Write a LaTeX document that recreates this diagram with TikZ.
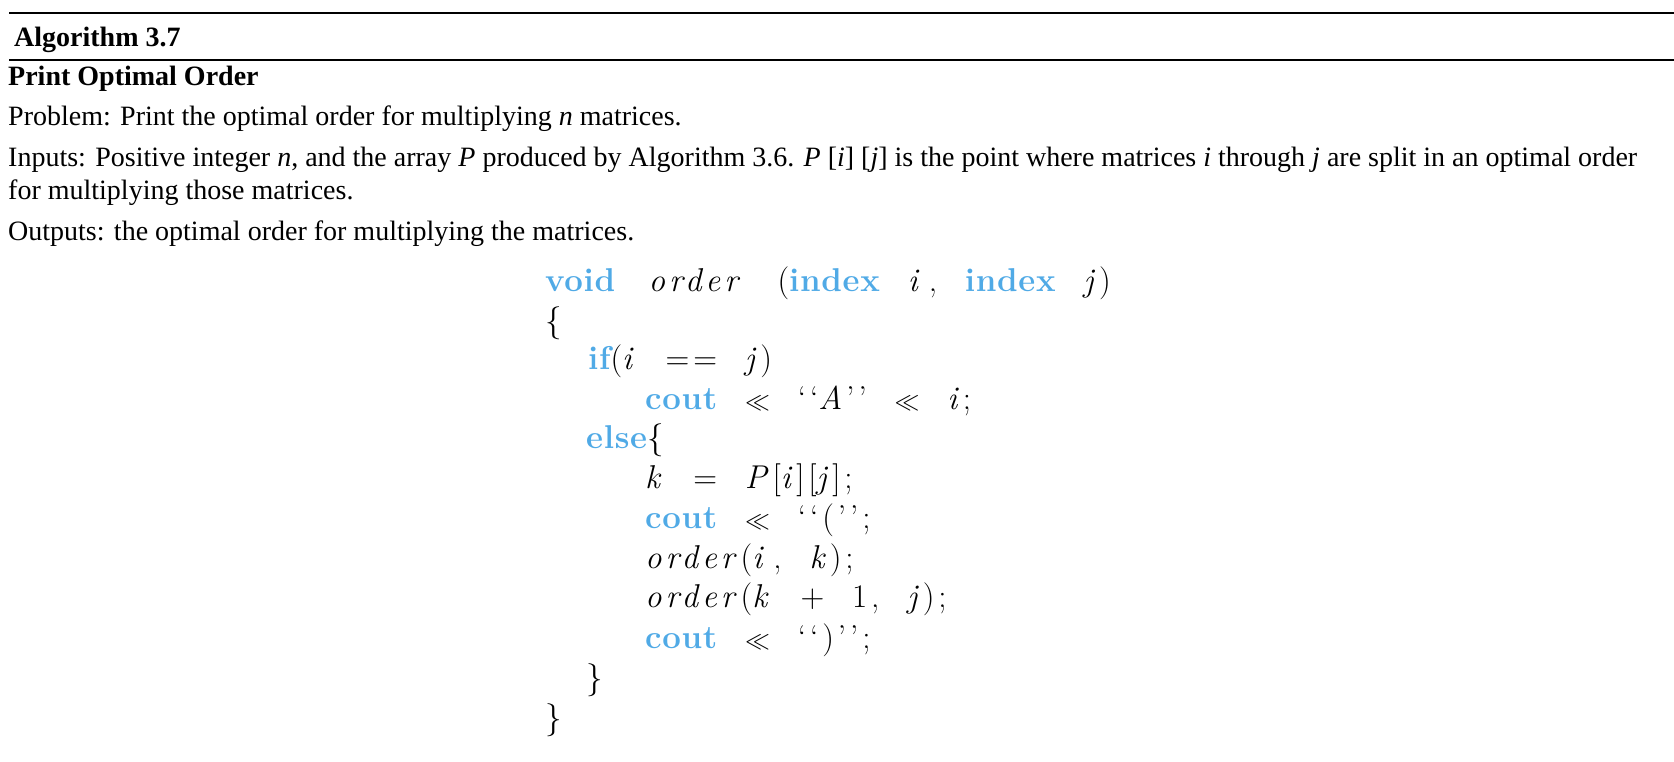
\documentclass[tikz,border=0pt]{standalone}
\usepackage{fontspec}
\setmainfont{Liberation Serif}
\newfontfamily\codefont{Latin Modern Roman}[LetterSpace=12,WordSpace=2]
\newfontfamily\kwfont{Latin Modern Roman}[LetterSpace=2,WordSpace=2]
\usetikzlibrary{positioning}
\definecolor{kwblue}{RGB}{80,170,230}
\newcommand{\kw}[1]{{\kwfont\color{kwblue}\bfseries #1}}
\tikzset{
txt/.style={anchor=base west,inner sep=0pt,font=\fontsize{28}{32}\selectfont},
code/.style={anchor=base west,inner sep=0pt,font=\codefont\fontsize{33}{33}\selectfont},
rule/.style={line width=1.8pt}
}
\begin{document}
\begin{tikzpicture}[x=1pt,y=-1pt]
\useasboundingbox (0,0) rectangle (1674,762);
\coordinate (r1a) at (9,13); \coordinate (r1b) at (1674,13);
\coordinate (r2a) at (9,60); \coordinate (r2b) at (1674,60);
\draw[rule] (r1a) -- (r1b);
\draw[rule] (r2a) -- (r2b);
\node[txt,font=\fontsize{28}{32}\selectfont\bfseries] (alg) at (14,47) {Algorithm 3.7};
\node[txt,font=\fontsize{28}{32}\selectfont\bfseries] (title) at (8,86) {Print Optimal Order};
\node[txt] (prob) at (8,126) {Problem: Print the optimal order for multiplying \textit{n} matrices.};
\node[txt] (inp) at (8,167) {Inputs: Positive integer \textit{n}, and the array \textit{P} produced by Algorithm 3.6. \textit{P} [\textit{i}] [\textit{j}] is the point where matrices \textit{i} through \textit{j} are split in an optimal order};
\node[txt] (inp2) at (8,200) {for multiplying those matrices.};
\node[txt] (outp) at (8,241) {Outputs: the optimal order for multiplying the matrices.};
\node[code] (c1) at (545,291) {\kw{void} \,\textit{order}\, (\kw{index} \textit{i}\,, \kw{index} \textit{j})};
\node[code] (c2) at (545,331) {\{};
\node[code] (c3) at (588,369) {\kw{if}(\textit{i} == \textit{j})};
\node[code] (c4) at (645,409) {\kw{cout} $\ll$ ‘‘\textit{A}’’ $\ll$ \textit{i};};
\node[code] (c5) at (586,448) {\kw{else}\{};
\node[code] (c6) at (645,488) {\textit{k} = \textit{P}[\textit{i}][\textit{j}];};
\node[code] (c7) at (645,528) {\kw{cout} $\ll$ ‘‘(’’;};
\node[code] (c8) at (645,568) {\textit{order}(\textit{i}\,, \textit{k});};
\node[code] (c9) at (645,607) {\textit{order}(\textit{k} + 1, \textit{j});};
\node[code] (c10) at (645,648) {\kw{cout} $\ll$ ‘‘)’’;};
\node[code] (c11) at (586,688) {\}};
\node[code] (c12) at (545,728) {\}};
\end{tikzpicture}
\end{document}
